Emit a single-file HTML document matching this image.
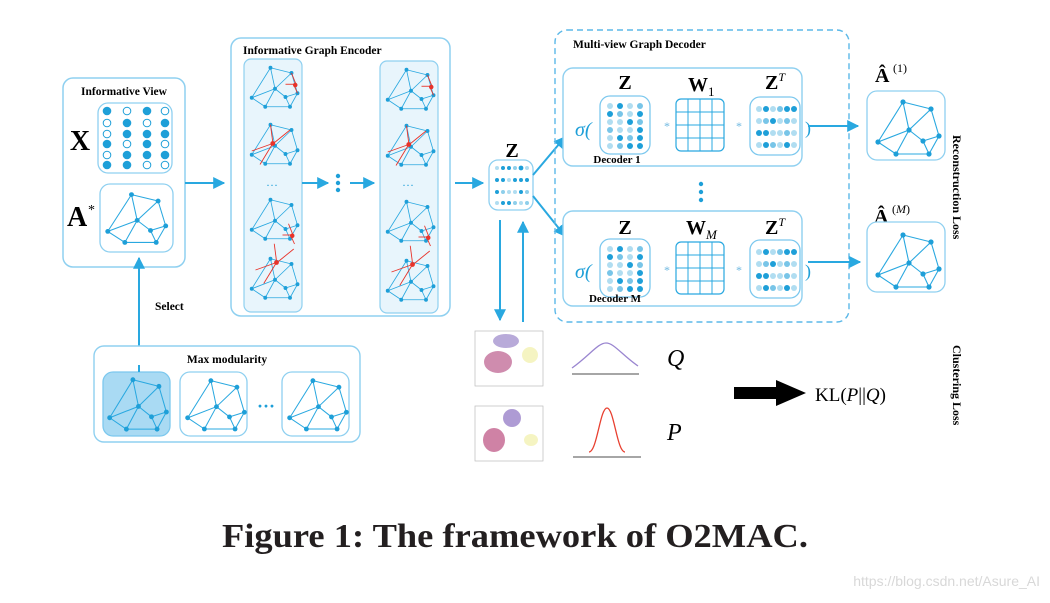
<!DOCTYPE html>
<html><head><meta charset="utf-8"><style>
body{margin:0;background:#fff;width:1050px;height:598px;overflow:hidden}
text{font-family:"Liberation Serif",serif}
</style></head><body>
<svg width="1050" height="598" viewBox="0 0 1050 598" xmlns="http://www.w3.org/2000/svg">
<defs>
<g id="gr">
<g stroke="#29a8e0" stroke-width="1.1" fill="none">
<line x1="30" y1="5" x2="58" y2="12"/><line x1="30" y1="5" x2="36" y2="33"/><line x1="30" y1="5" x2="5" y2="45"/>
<line x1="58" y1="12" x2="66" y2="39"/><line x1="58" y1="12" x2="36" y2="33"/><line x1="36" y1="33" x2="5" y2="45"/>
<line x1="36" y1="33" x2="23" y2="57"/><line x1="36" y1="33" x2="50" y2="44"/><line x1="50" y1="44" x2="66" y2="39"/>
<line x1="66" y1="39" x2="56" y2="57"/><line x1="50" y1="44" x2="56" y2="57"/><line x1="5" y1="45" x2="23" y2="57"/><line x1="23" y1="57" x2="56" y2="57"/>
</g>
<g fill="#1e9fd8"><circle cx="30" cy="5" r="2.6"/><circle cx="58" cy="12" r="2.6"/><circle cx="36" cy="33" r="2.6"/><circle cx="5" cy="45" r="2.6"/><circle cx="50" cy="44" r="2.6"/><circle cx="66" cy="39" r="2.6"/><circle cx="23" cy="57" r="2.6"/><circle cx="56" cy="57" r="2.6"/></g>
</g>
<g id="red"><g stroke="#e8332a" stroke-width="1.2"><line x1="58" y1="12" x2="64" y2="27"/><line x1="50" y1="27" x2="64" y2="27"/><line x1="66" y1="39" x2="62" y2="30"/></g><circle cx="63" cy="28" r="3" fill="#e8332a"/></g>
<g id="red2"><g stroke="#e8332a" stroke-width="1.2"><line x1="5" y1="40" x2="33" y2="30"/><line x1="16" y1="58" x2="33" y2="30"/><line x1="30" y1="5" x2="33" y2="28"/><line x1="56" y1="12" x2="35" y2="29"/></g><circle cx="33" cy="30" r="3.2" fill="#e8332a"/></g>
<marker id="ar" viewBox="0 0 10 10" refX="9" refY="5" markerWidth="6" markerHeight="6" orient="auto"><path d="M0,0L10,5L0,10z" fill="#29a8e0"/></marker>
<g id="mat"><rect x="0" y="0" width="50" height="58" rx="10" fill="#fff" stroke="#7cc8ee" stroke-width="1.3"/>
<g fill="#1e9fd8">
<circle cx="10" cy="10" r="3" opacity=".35"/><circle cx="20" cy="10" r="3"/><circle cx="30" cy="10" r="3" opacity=".35"/><circle cx="40" cy="10" r="3" opacity=".6"/>
<circle cx="10" cy="18" r="3"/><circle cx="20" cy="18" r="3" opacity=".6"/><circle cx="30" cy="18" r="3" opacity=".35"/><circle cx="40" cy="18" r="3"/>
<circle cx="10" cy="26" r="3" opacity=".35"/><circle cx="20" cy="26" r="3" opacity=".35"/><circle cx="30" cy="26" r="3"/><circle cx="40" cy="26" r="3" opacity=".6"/>
<circle cx="10" cy="34" r="3" opacity=".6"/><circle cx="20" cy="34" r="3" opacity=".35"/><circle cx="30" cy="34" r="3" opacity=".35"/><circle cx="40" cy="34" r="3"/>
<circle cx="10" cy="42" r="3" opacity=".35"/><circle cx="20" cy="42" r="3"/><circle cx="30" cy="42" r="3" opacity=".6"/><circle cx="40" cy="42" r="3"/>
<circle cx="10" cy="50" r="3" opacity=".35"/><circle cx="20" cy="50" r="3" opacity=".6"/><circle cx="30" cy="50" r="3"/><circle cx="40" cy="50" r="3"/>
</g></g>
<g id="matT"><rect x="0" y="0" width="50" height="58" rx="10" fill="#fff" stroke="#7cc8ee" stroke-width="1.3"/>
<g fill="#1e9fd8">
<circle cx="9" cy="12" r="3" opacity=".35"/><circle cx="16" cy="12" r="3"/><circle cx="23" cy="12" r="3" opacity=".35"/><circle cx="30" cy="12" r="3" opacity=".6"/><circle cx="37" cy="12" r="3"/><circle cx="44" cy="12" r="3"/>
<circle cx="9" cy="24" r="3" opacity=".35"/><circle cx="16" cy="24" r="3" opacity=".6"/><circle cx="23" cy="24" r="3"/><circle cx="30" cy="24" r="3" opacity=".35"/><circle cx="37" cy="24" r="3" opacity=".6"/><circle cx="44" cy="24" r="3" opacity=".35"/>
<circle cx="9" cy="36" r="3"/><circle cx="16" cy="36" r="3"/><circle cx="23" cy="36" r="3" opacity=".35"/><circle cx="30" cy="36" r="3" opacity=".35"/><circle cx="37" cy="36" r="3" opacity=".6"/><circle cx="44" cy="36" r="3" opacity=".35"/>
<circle cx="9" cy="48" r="3" opacity=".35"/><circle cx="16" cy="48" r="3"/><circle cx="23" cy="48" r="3" opacity=".6"/><circle cx="30" cy="48" r="3" opacity=".35"/><circle cx="37" cy="48" r="3"/><circle cx="44" cy="48" r="3" opacity=".35"/>
</g></g>
<g id="grid"><rect x="0" y="0" width="48" height="52" rx="5" fill="#fff" stroke="#29a8e0" stroke-width="1.2"/>
<g stroke="#29a8e0" stroke-width="1"><line x1="12" y1="0" x2="12" y2="52"/><line x1="24" y1="0" x2="24" y2="52"/><line x1="36" y1="0" x2="36" y2="52"/><line x1="0" y1="13" x2="48" y2="13"/><line x1="0" y1="26" x2="48" y2="26"/><line x1="0" y1="39" x2="48" y2="39"/></g></g>
</defs>

<rect x="63" y="78" width="122" height="189" rx="10" fill="#fff" stroke="#8fd0f0" stroke-width="1.5"/>
<text x="124" y="95" font-size="11.5" font-weight="bold" text-anchor="middle">Informative View</text>
<rect x="98" y="103" width="74" height="70" rx="10" fill="#fff" stroke="#8fd0f0" stroke-width="1.3"/>
<g fill="#1e9fd8" stroke="#1e9fd8" stroke-width="1">
<circle cx="107" cy="111" r="3.8"/><circle cx="127" cy="111" r="3.8" fill="#fff"/><circle cx="147" cy="111" r="3.8"/><circle cx="165" cy="111" r="3.8" fill="#fff"/>
<circle cx="107" cy="123" r="3.8" fill="#fff"/><circle cx="127" cy="123" r="3.8"/><circle cx="147" cy="123" r="3.8" fill="#fff"/><circle cx="165" cy="123" r="3.8"/>
<circle cx="107" cy="134" r="3.8" fill="#fff"/><circle cx="127" cy="134" r="3.8"/><circle cx="147" cy="134" r="3.8"/><circle cx="165" cy="134" r="3.8"/>
<circle cx="107" cy="144" r="3.8"/><circle cx="127" cy="144" r="3.8" fill="#fff"/><circle cx="147" cy="144" r="3.8"/><circle cx="165" cy="144" r="3.8" fill="#fff"/>
<circle cx="107" cy="155" r="3.8" fill="#fff"/><circle cx="127" cy="155" r="3.8"/><circle cx="147" cy="155" r="3.8"/><circle cx="165" cy="155" r="3.8"/>
<circle cx="107" cy="165" r="3.8"/><circle cx="127" cy="165" r="3.8"/><circle cx="147" cy="165" r="3.8" fill="#fff"/><circle cx="165" cy="165" r="3.8" fill="#fff"/>
</g>
<text x="80" y="150" font-size="28" font-weight="bold" text-anchor="middle">X</text>
<rect x="100" y="184" width="73" height="68" rx="10" fill="#fff" stroke="#8fd0f0" stroke-width="1.3"/>
<use href="#gr" transform="translate(103,190) scale(0.95,0.92)"/>
<text x="67" y="226" font-size="28" font-weight="bold">A</text><text x="88" y="214" font-size="14">*</text>

<line x1="139" y1="365" x2="139" y2="258" stroke="#29a8e0" stroke-width="2" marker-end="url(#ar)"/>
<text x="155" y="310" font-size="11.5" font-weight="bold">Select</text>

<rect x="94" y="346" width="266" height="96" rx="10" fill="#fff" stroke="#8fd0f0" stroke-width="1.4"/>
<text x="227" y="363" font-size="11.5" font-weight="bold" text-anchor="middle">Max modularity</text>
<rect x="103" y="372" width="67" height="64" rx="10" fill="#a9daf3" stroke="#7cc8ee" stroke-width="1.3"/>
<use href="#gr" transform="translate(105,375) scale(0.93,0.95)"/>
<line x1="139" y1="372" x2="139" y2="365" stroke="#29a8e0" stroke-width="2"/>
<rect x="180" y="372" width="67" height="64" rx="10" fill="#fff" stroke="#8fd0f0" stroke-width="1.3"/>
<use href="#gr" transform="translate(183,376) scale(0.93,0.93)"/>
<text x="266" y="412" font-size="18" font-weight="bold" fill="#1e9fd8" text-anchor="middle">···</text>
<rect x="282" y="372" width="67" height="64" rx="10" fill="#fff" stroke="#8fd0f0" stroke-width="1.3"/>
<use href="#gr" transform="translate(285,376) scale(0.93,0.93)"/>

<rect x="231" y="38" width="219" height="278" rx="10" fill="#fff" stroke="#8fd0f0" stroke-width="1.5"/>
<text x="243" y="54" font-size="11.5" font-weight="bold">Informative Graph Encoder</text>
<rect x="244" y="59" width="58" height="253" rx="7" fill="#e8f5fc" stroke="#8fd0f0" stroke-width="1.2"/>
<rect x="380" y="61" width="58" height="252" rx="7" fill="#e8f5fc" stroke="#8fd0f0" stroke-width="1.2"/>
<g transform="translate(248,64) scale(0.75,0.75)"><use href="#gr"/><use href="#red"/></g>
<g transform="translate(248,121) scale(0.75,0.75)"><use href="#gr"/><use href="#red2"/></g>
<text x="272" y="189" font-size="12" fill="#1e9fd8" text-anchor="middle">···</text>
<g transform="translate(248,196) scale(0.75,0.75)"><use href="#gr"/><use href="#red" transform="translate(-4,25)"/></g>
<g transform="translate(248,255) scale(0.75,0.75)"><use href="#gr"/><use href="#red2" transform="translate(5,-20)"/></g>
<g transform="translate(384,66) scale(0.75,0.75)"><use href="#gr"/><use href="#red"/></g>
<g transform="translate(384,122) scale(0.75,0.75)"><use href="#gr"/><use href="#red2"/></g>
<text x="408" y="189" font-size="12" fill="#1e9fd8" text-anchor="middle">···</text>
<g transform="translate(384,198) scale(0.75,0.75)"><use href="#gr"/><use href="#red" transform="translate(-4,25)"/></g>
<g transform="translate(384,257) scale(0.75,0.75)"><use href="#gr"/><use href="#red2" transform="translate(5,-20)"/></g>

<g stroke="#29a8e0" stroke-width="2" marker-end="url(#ar)">
<line x1="185" y1="183" x2="224" y2="183"/>
<line x1="302" y1="183" x2="328" y2="183"/>
<line x1="350" y1="183" x2="374" y2="183"/>
<line x1="455" y1="183" x2="483" y2="183"/>
</g>
<g fill="#1e9fd8"><circle cx="338" cy="176" r="2.2"/><circle cx="338" cy="183" r="2.2"/><circle cx="338" cy="190" r="2.2"/></g>

<text x="512" y="157" font-size="20" font-weight="bold" text-anchor="middle">Z</text>
<rect x="489" y="160" width="44" height="50" rx="9" fill="#fff" stroke="#8fd0f0" stroke-width="1.3"/>
<g fill="#1e9fd8">
<circle cx="497" cy="168" r="2" opacity=".35"/><circle cx="503" cy="168" r="2"/><circle cx="509" cy="168" r="2"/><circle cx="515" cy="168" r="2" opacity=".5"/><circle cx="521" cy="168" r="2.4"/><circle cx="527" cy="168" r="2" opacity=".35"/>
<circle cx="497" cy="180" r="2"/><circle cx="503" cy="180" r="2"/><circle cx="509" cy="180" r="2" opacity=".35"/><circle cx="515" cy="180" r="2"/><circle cx="521" cy="180" r="2"/><circle cx="527" cy="180" r="2"/>
<circle cx="497" cy="192" r="2"/><circle cx="503" cy="192" r="2" opacity=".5"/><circle cx="509" cy="192" r="2" opacity=".35"/><circle cx="515" cy="192" r="2" opacity=".35"/><circle cx="521" cy="192" r="2"/><circle cx="527" cy="192" r="2" opacity=".5"/>
<circle cx="497" cy="203" r="2" opacity=".35"/><circle cx="503" cy="203" r="2"/><circle cx="509" cy="203" r="2"/><circle cx="515" cy="203" r="2" opacity=".5"/><circle cx="521" cy="203" r="2" opacity=".35"/><circle cx="527" cy="203" r="2" opacity=".5"/>
</g>
<g stroke="#29a8e0" stroke-width="2" marker-end="url(#ar)">
<line x1="533" y1="175" x2="565" y2="137"/>
<line x1="533" y1="196" x2="565" y2="236"/>
<line x1="500" y1="220" x2="500" y2="320"/>
<line x1="523" y1="322" x2="523" y2="222"/>
</g>

<rect x="555" y="30" width="294" height="292" rx="12" fill="none" stroke="#5bb8e8" stroke-width="1.4" stroke-dasharray="6,4"/>
<text x="573" y="48" font-size="11.5" font-weight="bold">Multi-view Graph Decoder</text>
<rect x="563" y="68" width="239" height="98" rx="10" fill="#fff" stroke="#8fd0f0" stroke-width="1.4"/>
<rect x="563" y="211" width="239" height="95" rx="10" fill="#fff" stroke="#8fd0f0" stroke-width="1.4"/>
<g fill="#1e9fd8"><circle cx="701" cy="184" r="2.2"/><circle cx="701" cy="192" r="2.2"/><circle cx="701" cy="200" r="2.2"/></g>

<text x="625" y="89" font-size="20" font-weight="bold" text-anchor="middle">Z</text>
<text x="688" y="91" font-size="20" font-weight="bold">W<tspan font-size="13" dy="5" font-weight="normal">1</tspan></text>
<text x="765" y="89" font-size="20" font-weight="bold">Z<tspan font-size="12" dy="-8" font-style="italic" font-weight="normal">T</tspan></text>
<text x="575" y="136" font-size="20" font-style="italic" fill="#1e9fd8">σ(</text>
<use href="#mat" transform="translate(600,96)"/>
<text x="664" y="130" font-size="12" fill="#6fb8e0">*</text>
<use href="#grid" transform="translate(676,99)"/>
<text x="736" y="130" font-size="12" fill="#6fb8e0">*</text>
<use href="#matT" transform="translate(750,97)"/>
<text x="805" y="134" font-size="18" fill="#1e9fd8">)</text>
<text x="617" y="163" font-size="11" font-weight="bold" text-anchor="middle">Decoder 1</text>

<text x="625" y="234" font-size="20" font-weight="bold" text-anchor="middle">Z</text>
<text x="686" y="234" font-size="20" font-weight="bold">W<tspan font-size="13" dy="5" font-style="italic" font-weight="normal">M</tspan></text>
<text x="765" y="234" font-size="20" font-weight="bold">Z<tspan font-size="12" dy="-8" font-style="italic" font-weight="normal">T</tspan></text>
<text x="575" y="278" font-size="20" font-style="italic" fill="#1e9fd8">σ(</text>
<use href="#mat" transform="translate(600,239)"/>
<text x="664" y="274" font-size="12" fill="#6fb8e0">*</text>
<use href="#grid" transform="translate(676,242)"/>
<text x="736" y="274" font-size="12" fill="#6fb8e0">*</text>
<use href="#matT" transform="translate(750,240)"/>
<text x="805" y="277" font-size="18" fill="#1e9fd8">)</text>
<text x="615" y="302" font-size="11" font-weight="bold" text-anchor="middle">Decoder M</text>

<g stroke="#29a8e0" stroke-width="2" marker-end="url(#ar)">
<line x1="808" y1="126" x2="858" y2="126"/>
<line x1="808" y1="262" x2="860" y2="262"/>
</g>

<text x="875" y="82" font-size="20" font-weight="bold">Â</text><text x="893" y="72" font-size="12">(1)</text>
<rect x="867" y="91" width="78" height="69" rx="10" fill="#fff" stroke="#8fd0f0" stroke-width="1.3"/>
<use href="#gr" transform="translate(873,97)"/>
<text x="874" y="223" font-size="20" font-weight="bold">Â</text><text x="892" y="213" font-size="12">(<tspan font-style="italic">M</tspan>)</text>
<rect x="867" y="222" width="78" height="70" rx="10" fill="#fff" stroke="#8fd0f0" stroke-width="1.3"/>
<use href="#gr" transform="translate(873,230)"/>

<text transform="translate(953,135) rotate(90)" font-size="12" font-weight="bold">Reconstruction Loss</text>
<text transform="translate(953,345) rotate(90)" font-size="12" font-weight="bold">Clustering Loss</text>

<rect x="475" y="331" width="68" height="55" fill="#fff" stroke="#bbb" stroke-width="0.7"/>
<g opacity=".6">
<ellipse cx="506" cy="341" rx="13" ry="7" fill="#8a72c0"/>
<ellipse cx="498" cy="362" rx="14" ry="11" fill="#b0407a"/>
<ellipse cx="530" cy="355" rx="8" ry="8" fill="#f0ee9a"/>
</g>
<rect x="475" y="406" width="68" height="55" fill="#fff" stroke="#bbb" stroke-width="0.7"/>
<g opacity=".6">
<ellipse cx="512" cy="418" rx="9" ry="9" fill="#7a5ab8"/>
<ellipse cx="494" cy="440" rx="11" ry="12" fill="#b0306a"/>
<ellipse cx="531" cy="440" rx="7" ry="6" fill="#f0ee9a"/>
</g>

<path d="M572,368 C590,355 598,343 606,343 C614,343 622,355 638,366" fill="none" stroke="#9a86d0" stroke-width="1.3"/>
<line x1="572" y1="374" x2="639" y2="374" stroke="#888" stroke-width="1.4"/>
<path d="M589,452 C597,452 600,408 607,408 C614,408 617,452 625,452" fill="none" stroke="#e84030" stroke-width="1.3"/>
<line x1="573" y1="457" x2="641" y2="457" stroke="#888" stroke-width="1.4"/>
<text x="667" y="366" font-size="24" font-style="italic">Q</text>
<text x="667" y="440" font-size="24" font-style="italic">P</text>

<path d="M734,387 L776,387 L776,380 L806,393 L776,406 L776,399 L734,399 Z" fill="#000"/>
<text x="815" y="401" font-size="19">KL(<tspan font-style="italic">P</tspan>||<tspan font-style="italic">Q</tspan>)</text>

<text x="222" y="547" font-size="34" font-weight="bold" fill="#231f20" textLength="586" lengthAdjust="spacingAndGlyphs">Figure 1: The framework of O2MAC.</text>
<text x="1040" y="586" font-size="14" fill="#d8d8d8" text-anchor="end" style="font-family:'Liberation Sans',sans-serif">https://blog.csdn.net/Asure_AI</text>
</svg>
</body></html>
